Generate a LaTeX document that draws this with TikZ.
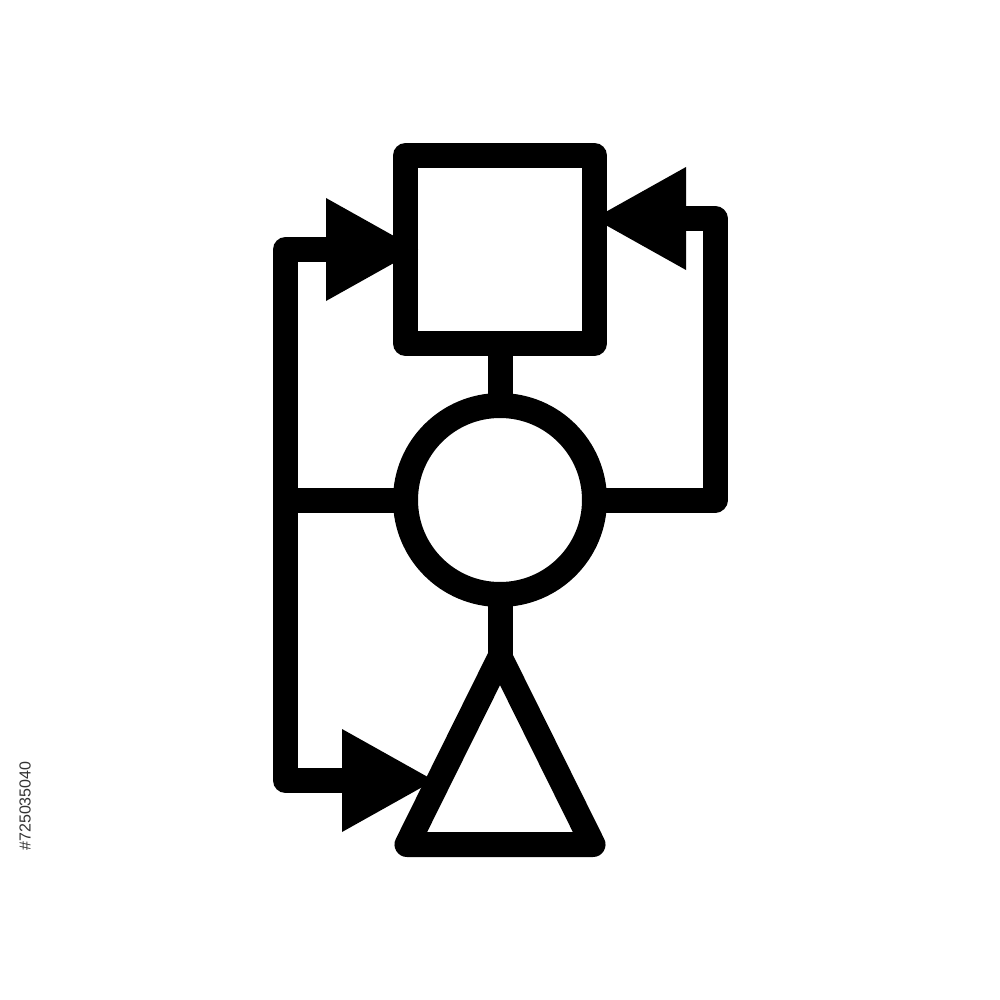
\documentclass[tikz,border=0pt]{standalone}
\usepackage{fontspec}
\setmainfont{Liberation Sans}
\usetikzlibrary{arrows.meta,calc}
\begin{document}
\begin{tikzpicture}[x=1pt,y=-1pt,
  thick line/.style={line width=25pt, line join=round, line cap=round},
  block/.style={draw, line width=25pt, line join=round, inner sep=0pt},
  conn/.style={thick line},
  tip/.style={-{Triangle[length=92pt,width=103pt,line width=0pt]}}]
\useasboundingbox (0,0) rectangle (1000,1000);
% nodes
\node[block, minimum width=189pt, minimum height=188pt] (sq) at (500,249.5) {};
\node[block, circle, minimum size=189pt] (circ) at (500,500) {};
\coordinate (apex) at (500,657);
\coordinate (bl) at (407,844.5);
\coordinate (br) at (593,844.5);
\draw[thick line] (apex) -- (bl) -- (br) -- cycle;
\coordinate (triL) at (434,780.5);
\coordinate (sqL) at ([xshift=25pt]sq.west);
\coordinate (sqR) at ([xshift=-13pt,yshift=31pt]sq.east);
\coordinate (lx) at (285.5,0);
\coordinate (rx) at (715,0);
% connectors
\draw[conn] (sq.south) -- (circ.north);
\draw[conn] (circ.south) -- (apex);
\draw[conn,tip] (circ.west) -- (circ.west -| lx) |- (sqL);
\draw[conn,tip] (circ.west -| lx) |- (triL);
\draw[conn,tip] (circ.east) -- (circ.east -| rx) |- (sqR);
% stock id
\node[rotate=90, font=\fontsize{16}{16}\selectfont, text=black!80, inner sep=0pt] (id) at (25,806) {\#725035040};
\end{tikzpicture}
\end{document}
